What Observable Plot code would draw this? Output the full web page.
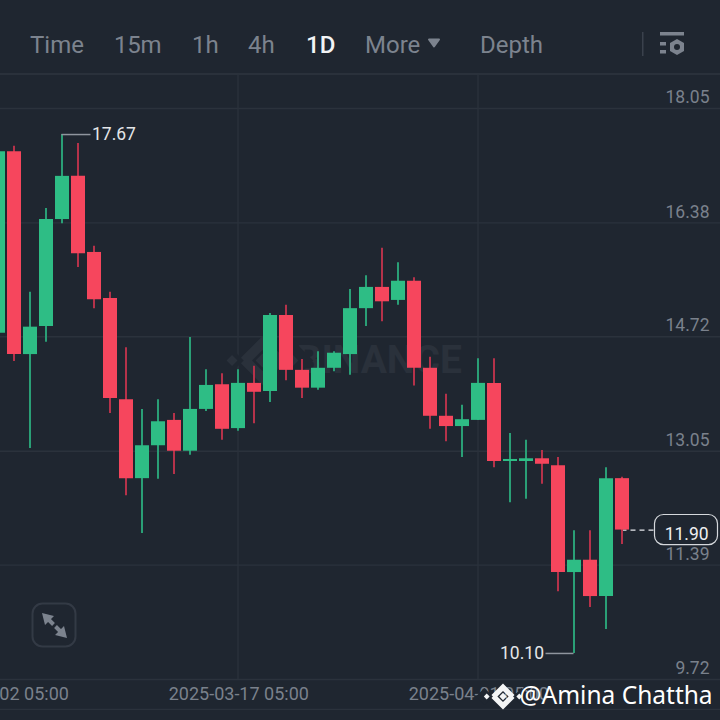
<!DOCTYPE html>
<html>
<head>
<meta charset="utf-8">
<script src="https://cdn.jsdelivr.net/npm/d3@7"></script>
<script src="https://cdn.jsdelivr.net/npm/@observablehq/plot@0.6"></script>
<style>
html,body{margin:0;padding:0;background:#1f2630;width:720px;height:720px;overflow:hidden;font-family:Roboto,sans-serif}
#page{position:relative;width:720px;height:720px}
#head{position:absolute;left:0;top:0;width:720px;height:73px;border-bottom:2px solid #2a313b;box-sizing:content-box}
#head span{position:absolute;top:29px;font-size:24px;line-height:32px;color:#7c838e}
#chart{position:absolute;left:0;top:74px}
#chart svg{background:transparent;display:block;max-width:none}
.ui{position:absolute}
</style>
</head>
<body>
<div id="page">
  <div id="head">
    <span style="left:30px">Time</span>
    <span style="left:114px;letter-spacing:-.3px">15m</span>
    <span style="left:192px">1h</span>
    <span style="left:248px">4h</span>
    <span style="left:306px;color:#f2f3f5;font-weight:500">1D</span>
    <span style="left:365px">More</span>
    <span style="left:480px">Depth</span>
  </div>
  <svg class="ui" style="left:426px;top:37px" width="16" height="12"><path d="M3 2.5H13L8 9.5Z" fill="#7c838e" stroke="#7c838e" stroke-width="2" stroke-linejoin="round"/></svg>
  <svg class="ui" style="left:640px;top:30px" width="48" height="28">
    <rect x="2" y="2" width="1.5" height="24" fill="#3a414c"/>
    <rect x="20" y="2" width="24" height="3.5" fill="#7c838e"/>
    <rect x="20" y="12" width="6" height="3.5" fill="#7c838e"/>
    <rect x="20" y="20" width="6" height="3.5" fill="#7c838e"/>
    <path d="M37 9 L44 13 L44 21 L37 25 L30 21 L30 13Z" fill="#7c838e"/>
    <circle cx="37" cy="17" r="3" fill="#1f2630"/>
  </svg>
  <div id="chart"></div>
  <svg class="ui" style="left:31px;top:602px" width="46" height="46">
    <rect x="1.5" y="1.5" width="43" height="43" rx="10" fill="#1f2630" stroke="#333a45" stroke-width="2"/>
    <path d="M11 11 L23 14 L14 23Z M36 36 L24 33 L33 24Z" fill="#7c838e"/>
    <path d="M17 17 L22.5 22.5 M30 30 L24.5 24.5" stroke="#7c838e" stroke-width="4"/>
  </svg>
</div>
<script>
const dates = ["2025-03-02","2025-03-03","2025-03-04","2025-03-05","2025-03-06","2025-03-07","2025-03-08","2025-03-09","2025-03-10","2025-03-11","2025-03-12","2025-03-13","2025-03-14","2025-03-15","2025-03-16","2025-03-17","2025-03-18","2025-03-19","2025-03-20","2025-03-21","2025-03-22","2025-03-23","2025-03-24","2025-03-25","2025-03-26","2025-03-27","2025-03-28","2025-03-29","2025-03-30","2025-03-31","2025-04-01","2025-04-02","2025-04-03","2025-04-04","2025-04-05","2025-04-06","2025-04-07","2025-04-08","2025-04-09","2025-04-10"];
const open  = [14.77,17.42,14.46,14.87,16.43,17.06,15.95,15.28,13.80,12.65,13.13,13.50,13.05,13.66,14.02,13.38,14.04,13.92,15.03,14.23,13.97,14.26,14.46,15.13,15.44,15.25,15.53,14.26,13.56,13.41,13.50,14.04,12.90,12.90,12.94,12.84,11.28,11.46,10.93,12.65];
const high  = [17.47,17.50,15.37,16.59,17.67,17.54,16.04,15.37,14.56,13.66,13.80,13.60,14.71,14.24,14.18,14.24,14.29,15.06,15.18,14.39,14.50,14.50,15.41,15.61,16.01,15.80,15.58,14.42,13.88,13.72,14.40,14.40,13.31,13.21,13.06,12.96,11.89,11.89,12.81,12.67];
const low   = [14.67,14.36,13.09,14.64,16.37,15.73,15.13,13.60,12.40,11.85,12.64,12.71,12.99,13.63,13.21,13.34,13.45,13.76,14.08,13.82,13.94,14.21,14.16,14.87,14.94,15.18,14.00,13.37,13.19,12.96,13.50,12.81,12.30,12.35,12.57,11.00,10.10,10.77,10.45,11.69];
const close = [17.42,14.46,14.86,16.43,17.06,15.93,15.26,13.82,12.65,13.13,13.48,13.05,13.66,14.01,13.37,14.04,13.91,15.03,14.23,13.97,14.26,14.48,15.13,15.44,15.23,15.53,14.26,13.56,13.41,13.51,14.04,12.90,12.93,12.94,12.86,11.28,11.46,10.93,12.65,11.90];

const priceTicks = [18.05,16.38,14.72,13.05,11.39,9.72];
const dateTicks = ["2025-03-02T05:00Z","2025-03-17T05:00Z","2025-04-01T05:00Z"];
const dateTickLabels = ["2025-03-02 05:00","2025-03-17 05:00","2025-04-01 05:00"];
const lastPrice = 11.90;
const peak = {price:17.67, from:"2025-03-06T05:00Z", to:"2025-03-08T00:30Z"};
const trough = {price:10.10, from:"2025-04-07T05:00Z", to:"2025-04-05T11:00Z"};

const BG="#1f2630", GRID="#2b323c", AXIS="#7a818c", UP="#2ebd85", DOWN="#f6465d", UPW="#2a9f76", DOWNW="#b5324a", WM="#2a313b";
const t = s => new Date(s);
const candles = dates.map((d,i)=>({date:t(d+"T05:00Z"),open:open[i],high:high[i],low:low[i],close:close[i],up:close[i]>=open[i]}));
const mono = {fontFamily:"Roboto, sans-serif"};

// Binance logo: a ring of chevrons round a centre diamond, with two side diamonds
const logo = (dx,dy,k,fill) => {
  const base = {frameAnchor:"top-left",symbol:"square",rotate:45};
  return [
    Plot.dot([0],{...base,dx,dy,r:4.8*k,fill:"none",stroke:fill,strokeWidth:3.4*k}),
    Plot.dot([0],{...base,dx:dx-12*k,dy,r:4.4*k,fill:BG}),
    Plot.dot([0],{...base,dx:dx+12*k,dy,r:4.4*k,fill:BG}),
    Plot.dot([0],{...base,dx,dy,r:1.9*k,fill}),
    Plot.dot([0],{...base,dx:dx-10.5*k,dy,r:1.5*k,fill}),
    Plot.dot([0],{...base,dx:dx+10.5*k,dy,r:1.5*k,fill})
  ];
};

const chart = Plot.plot({
  width:720, height:646,
  margin:0,
  style:{background:"transparent",overflow:"hidden"},
  x:{type:"utc",domain:[t("2025-03-02T08:00Z"),t("2025-04-16T08:00Z")],range:[-0.5,719.5],axis:null},
  y:{domain:[9.72,18.05],range:[605,34],axis:null},
  marks:[
    Plot.ruleY(priceTicks,{stroke:GRID,strokeWidth:1.3}),
    Plot.ruleY([9.283],{stroke:GRID,strokeWidth:1.3}),
    Plot.ruleX(dateTicks.map(t),{y1:18.55,y2:9.72,stroke:GRID,strokeWidth:1.3}),
    // faint watermark
    Plot.text(["BINANCE"],{frameAnchor:"top-left",dx:296,dy:286,lineAnchor:"middle",textAnchor:"start",fontSize:39,fontWeight:700,fill:WM,fontFamily:"Roboto, sans-serif",letterSpacing:1.5}),
    ...logo(262,286,2.9,WM),
    // last price guide
    Plot.ruleY([lastPrice],{x1:t("2025-04-10T05:00Z"),x2:t("2025-04-12T06:30Z"),stroke:"#e6e8eb",strokeWidth:1.2,strokeDasharray:"5,4"}),
    // candles
    Plot.ruleX(candles,{x:"date",y1:"low",y2:"high",stroke:d=>d.up?UPW:DOWNW,strokeWidth:2}),
    Plot.ruleX(candles,{x:"date",y1:"open",y2:"close",stroke:d=>d.up?UP:DOWN,strokeWidth:14}),
    // axis labels
    Plot.text(priceTicks,{y:d=>d,text:d=>d.toFixed(2),frameAnchor:"right",dx:-11,dy:-11,textAnchor:"end",fontSize:17.5,fill:AXIS,...mono}),
    Plot.text(dateTicks.map(t),{x:d=>d,text:(d,i)=>dateTickLabels[i],frameAnchor:"bottom",lineAnchor:"middle",dy:-26,dx:0.8,textAnchor:"middle",fontSize:18,fill:AXIS,...mono}),
    // high / low callouts
    Plot.ruleY([peak.price],{x1:t(peak.from),x2:t(peak.to),stroke:"#8f959e",strokeWidth:1.5}),
    Plot.text([peak.price],{x:t(peak.to),y:d=>d,text:d=>d.toFixed(2),dx:1,textAnchor:"start",fontSize:17.5,fill:"#e4e6e9",...mono}),
    Plot.ruleY([trough.price],{x1:t(trough.from),x2:t(trough.to),stroke:"#8f959e",strokeWidth:1.5}),
    Plot.text([trough.price],{x:t(trough.to),y:d=>d,text:d=>d.toFixed(2),dx:-2,textAnchor:"end",fontSize:17.5,fill:"#e4e6e9",...mono}),
    // last price tag
    Plot.rect([lastPrice],{x1:t("2025-04-12T06:30Z"),x2:t("2025-04-16T05:00Z"),y1:d=>d-0.22,y2:d=>d+0.22,rx:9,fill:BG,stroke:"#d5d8dc",strokeWidth:1.2}),
    Plot.text([lastPrice],{x:t("2025-04-14T06:00Z"),y:d=>d,text:d=>d.toFixed(2),dy:4,textAnchor:"middle",fontSize:17.5,fill:"#eef0f2",...mono}),
    // creator watermark
    ...logo(502.5,622,1.55,"#f4f5f6"),
    Plot.text(["@Amina Chattha"],{frameAnchor:"top-left",dx:519,dy:622,lineAnchor:"middle",textAnchor:"start",fontSize:24.5,fill:"#ffffff",fontFamily:"'Noto Sans', sans-serif"})
  ]
});
document.getElementById("chart").appendChild(chart);
</script>
</body>
</html>
